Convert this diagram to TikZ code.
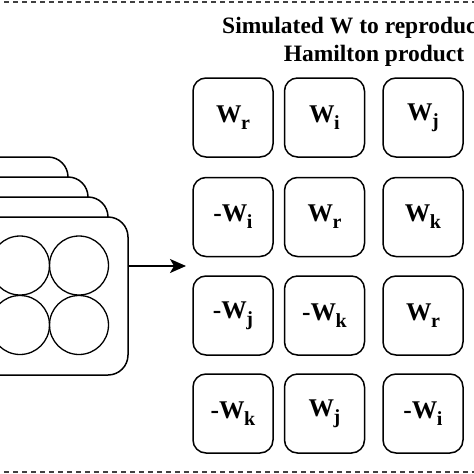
\documentclass[tikz,border=0pt]{standalone}
\usepackage{fontspec}
\setmainfont{Liberation Serif}
\usetikzlibrary{arrows.meta,calc}
\newcommand{\qsub}[1]{\raisebox{-7pt}{\fontsize{20}{20}\selectfont\bfseries #1}}
\newcommand{\qw}[2]{\fontsize{25.5}{26}\selectfont\bfseries #1W\kern-0.5pt\qsub{#2}}
\tikzset{
  cell/.style={draw, line width=1.5pt, rounded corners=13pt, minimum width=80pt, minimum height=79pt, inner sep=0pt, font=\bfseries},
  layer/.style={draw, line width=1.5pt, rounded corners=20pt, fill=white},
  ball/.style={draw, line width=1.3pt, circle, minimum size=59pt, inner sep=0pt},
  sep/.style={draw=black!75, line width=2pt, dash pattern=on 5pt off 4pt},
  ttl/.style={font=\fontsize{23.5}{26}\selectfont\bfseries, inner sep=0pt}
}
\begin{document}
\begin{tikzpicture}[x=1pt,y=-1pt]
\useasboundingbox (0,0) rectangle (474,474);
\fill[white] (0,0) rectangle (474,474);
% dashed separators
\coordinate (tl) at (-5,1.5); \coordinate (tr) at (480,1.5);
\coordinate (bl) at (-5,472); \coordinate (br) at (480,472);
\path[sep] (tl) -- (tr);
\path[sep] (bl) -- (br);
% stacked layers
\draw[layer] (-100,157) rectangle (68,315);
\draw[layer] (-100,177) rectangle (88,335);
\draw[layer] (-100,197) rectangle (108,355);
\draw[layer] (-100,217) rectangle (128,375);
\node[inner sep=0pt, minimum width=228pt, minimum height=158pt] (front) at (14,296) {};
\node[ball] (c1) at (20,265.5) {};
\node[ball] (c2) at (79,265.5) {};
\node[ball] (c3) at (20,325) {};
\node[ball] (c4) at (79,325) {};
% arrow
\coordinate (tip) at (186,266);
\draw[line width=1.5pt, -{Stealth[length=16pt,width=14pt,inset=4pt]}] (front.east |- tip) -- (tip);
% title
\node[ttl, anchor=base west] (t1) at (222,33) {Simulated W to reproduce};
\node[ttl, anchor=base] (t2) at (374,61) {Hamilton product};
% grid
\node[cell] (a11) at (233,117.5) {\qw{}{r}};
\node[cell] (a12) at (324.5,117.5) {\qw{}{i}};
\node[cell] (a13) at (423,117.5) {\qw{}{j}};
\node[cell] (a21) at (233,217) {\qw{-}{i}};
\node[cell] (a22) at (324.5,217) {\qw{}{r}};
\node[cell] (a23) at (423,217) {\qw{}{k}};
\node[cell] (a31) at (233,315.5) {\qw{-}{j}};
\node[cell] (a32) at (324.5,315.5) {\qw{-}{k}};
\node[cell] (a33) at (423,315.5) {\qw{}{r}};
\node[cell] (a41) at (233,413.5) {\qw{-}{k}};
\node[cell] (a42) at (324.5,413.5) {\qw{}{j}};
\node[cell] (a43) at (423,413.5) {\qw{-}{i}};
\end{tikzpicture}
\end{document}
